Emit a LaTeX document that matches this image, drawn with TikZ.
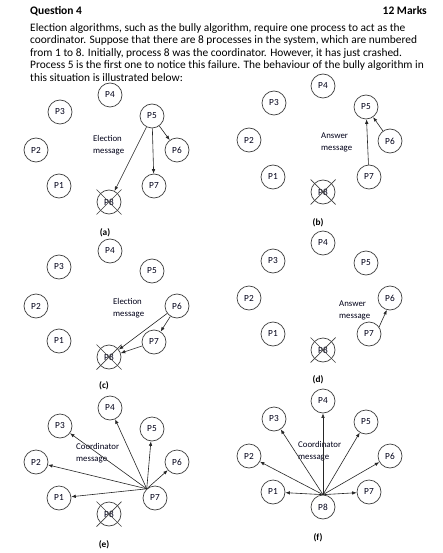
\documentclass[tikz,border=0pt]{standalone}
\usepackage{fontspec}
\setmainfont{Carlito}
\usetikzlibrary{arrows.meta}
\begin{document}
\begin{tikzpicture}[x=1pt,y=-1pt,
  proc/.style={circle,draw=black!75,line width=0.7pt,minimum size=24pt,inner sep=0pt,font=\fontsize{9.3}{10}\selectfont,text=black!90!blue},
  msg/.style={-{Latex[length=4.5pt,width=3.5pt]},line width=0.6pt,draw=black!85},
  lbl/.style={align=left,anchor=west,inner sep=0pt,font=\fontsize{8.8}{12}\selectfont,text=black!90!blue},
  panelcap/.style={inner sep=0pt,font=\bfseries\fontsize{9.3}{10}\selectfont},
  body/.style={anchor=base west,inner sep=0pt,font=\fontsize{11.4}{12}\selectfont},
  xout/.style={line width=0.7pt,draw=black!75}]
\useasboundingbox[fill=white] (0,0) rectangle (443,553);
% header
\node[body,font=\bfseries\fontsize{11.5}{12}\selectfont] (q) at (30,14.5) {Question 4};
\node[body,anchor=base east,font=\bfseries\fontsize{11.5}{12}\selectfont] (m) at (427,14.5) {12 Marks};
\node[body] (l1) at (30,31.5) {Election algorithms, such as the bully algorithm, require one process to act as the};
\node[body] (l2) at (30,43.9) {coordinator. Suppose that there are 8 processes in the system, which are numbered};
\node[body] (l3) at (30,56.3) {from 1 to 8. Initially, process 8 was the coordinator. However, it has just crashed.};
\node[body] (l4) at (30,68.7) {Process 5 is the first one to notice this failure. The behaviour of the bully algorithm in};
\node[body] (l5) at (30,81.1) {this situation is illustrated below:};
% (a)
\node[proc] (a4) at (110,95) {P4};
\node[proc] (a3) at (60,112) {P3};
\node[proc] (a5) at (152,116) {P5};
\node[proc] (a2) at (36,150) {P2};
\node[proc] (a6) at (177,150) {P6};
\node[proc] (a1) at (59,186) {P1};
\node[proc] (a7) at (154,186) {P7};
\node[proc] (a8) at (109,202) {P8};
\draw[xout] (a8.center) ++(-12.5,-12.5) -- ++(25,25);
\draw[xout] (a8.center) ++(12.5,-12.5) -- ++(-25,25);
\node[lbl] (am) at (93,145) {Election\\message};
\draw[msg] (a5) -- (a8);
\draw[msg] (a5) -- (a7);
\draw[msg] (a5) -- (a6);
\node[panelcap] (ca) at (105,233) {(a)};
% (b)
\node[proc] (b4) at (323,86) {P4};
\node[proc] (b3) at (274,103) {P3};
\node[proc] (b5) at (366,107) {P5};
\node[proc] (b2) at (249,140) {P2};
\node[proc] (b6) at (390,141) {P6};
\node[proc] (b1) at (273,177) {P1};
\node[proc] (b7) at (369,177) {P7};
\node[proc] (b8) at (323,192) {P8};
\draw[xout] (b8.center) ++(-12.5,-12.5) -- ++(25,25);
\draw[xout] (b8.center) ++(12.5,-12.5) -- ++(-25,25);
\node[lbl] (bm) at (321,142) {Answer\\message};
\draw[msg] (b7) -- (b5);
\draw[msg] (b6) -- (b5);
\node[panelcap] (cb) at (318,223) {(b)};
% (c)
\node[proc] (c4) at (110,251) {P4};
\node[proc] (c3) at (59,267) {P3};
\node[proc] (c5) at (152,271) {P5};
\node[proc] (c2) at (36,306) {P2};
\node[proc] (c6) at (177,306) {P6};
\node[proc] (c1) at (59,341) {P1};
\node[proc] (c7) at (154,342) {P7};
\node[proc] (c8) at (109,357) {P8};
\draw[xout] (c8.center) ++(-12.5,-12.5) -- ++(25,25);
\draw[xout] (c8.center) ++(12.5,-12.5) -- ++(-25,25);
\node[lbl] (cm) at (113,308) {Election\\message};
\draw[msg] (c6) -- (c8);
\draw[msg] (c6) -- (c7);
\draw[msg] (c7) -- (c8);
\node[panelcap] (cc) at (104,386) {(c)};
% (d)
\node[proc] (d4) at (323,243) {P4};
\node[proc] (d3) at (273,261) {P3};
\node[proc] (d5) at (366,263) {P5};
\node[proc] (d2) at (249,298) {P2};
\node[proc] (d6) at (390,298) {P6};
\node[proc] (d1) at (273,334) {P1};
\node[proc] (d7) at (369,334) {P7};
\node[proc] (d8) at (323,350) {P8};
\draw[xout] (d8.center) ++(-12.5,-12.5) -- ++(25,25);
\draw[xout] (d8.center) ++(12.5,-12.5) -- ++(-25,25);
\node[lbl] (dm) at (339,310) {Answer\\message};
\draw[msg] (d7.35) -- (d6.255);
\node[panelcap] (cd) at (318,380) {(d)};
% (e)
\node[proc] (e4) at (110,408) {P4};
\node[proc] (e3) at (60,426) {P3};
\node[proc] (e5) at (152,429) {P5};
\node[proc] (e2) at (36,462) {P2};
\node[proc] (e6) at (177,462) {P6};
\node[proc] (e1) at (59,498) {P1};
\node[proc] (e7) at (155,498) {P7};
\node[proc] (e8) at (109,514) {P8};
\draw[xout] (e8.center) ++(-12.5,-12.5) -- ++(25,25);
\draw[xout] (e8.center) ++(12.5,-12.5) -- ++(-25,25);
\node[lbl] (em) at (76,453) {Coordinator\\message};
\coordinate (e0) at (e7.132);
\foreach \t in {e1,e2,e3,e4,e5,e6} \draw[msg] (e0) -- (\t);
\node[panelcap] (ce) at (104,545) {(e)};
% (f)
\node[proc] (f4) at (323,401) {P4};
\node[proc] (f3) at (274,419) {P3};
\node[proc] (f5) at (366,422) {P5};
\node[proc] (f2) at (249,456) {P2};
\node[proc] (f6) at (390,456) {P6};
\node[proc] (f1) at (273,492) {P1};
\node[proc] (f7) at (369,492) {P7};
\node[proc] (f8) at (323,507) {P8};
\node[lbl] (fm) at (298,451) {Coordinator\\message};
\coordinate (f0) at (f8.north);
\foreach \t in {f1,f2,f3,f4,f5,f6,f7} \draw[msg] (f0) -- (\t);
\node[panelcap] (cf) at (318,538) {(f)};
\end{tikzpicture}
\end{document}
